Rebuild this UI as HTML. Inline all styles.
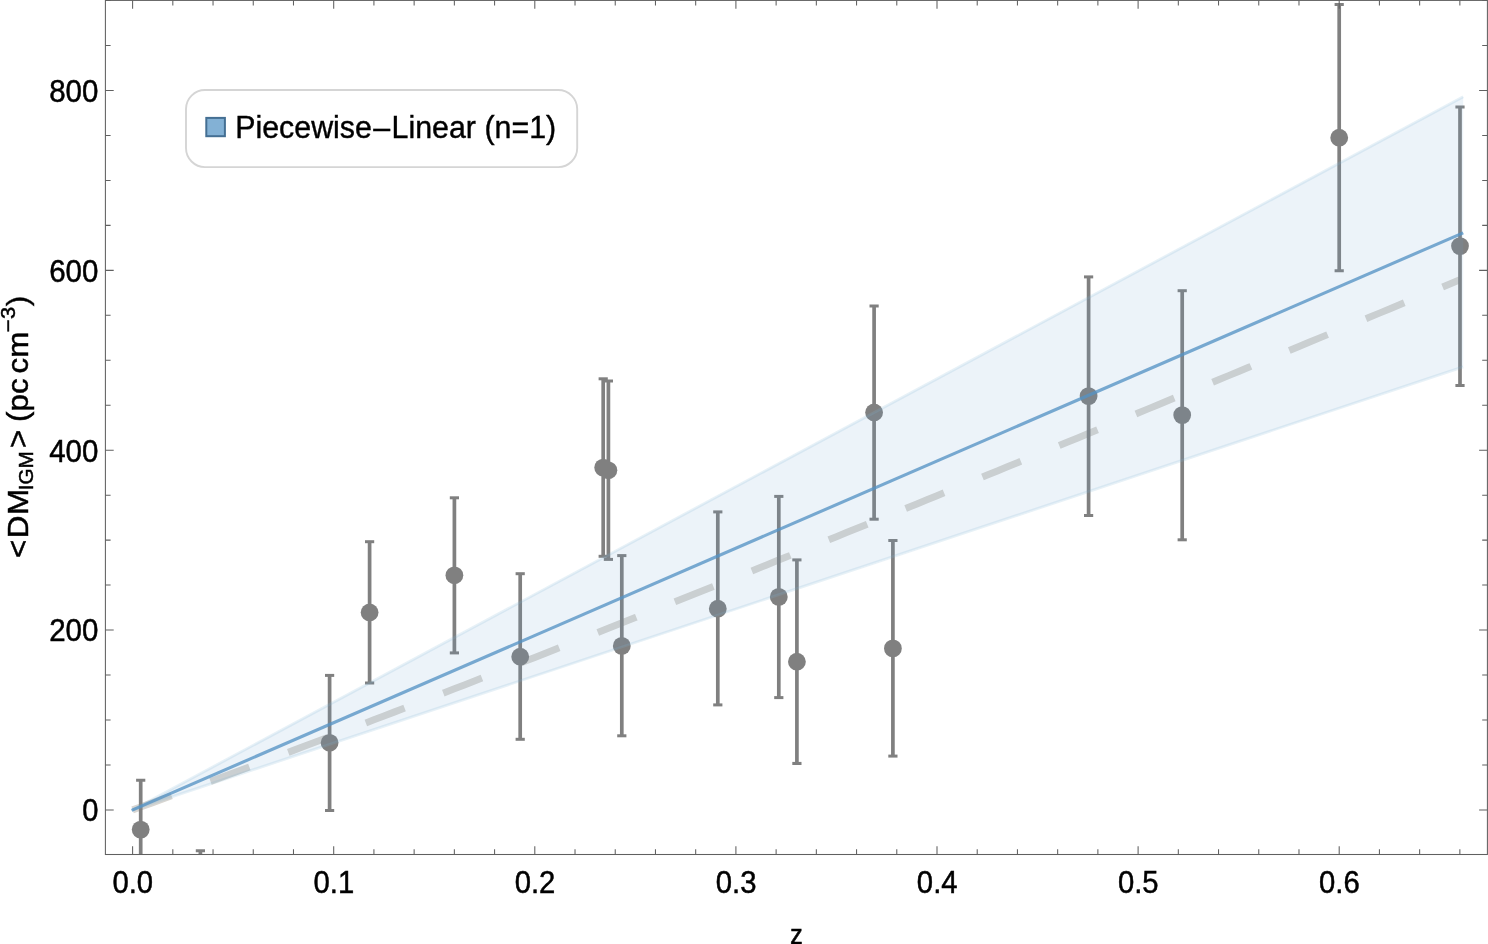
<!DOCTYPE html>
<html><head><meta charset="utf-8"><title>DM IGM vs z</title>
<style>
html,body{margin:0;padding:0;background:#fff;}
body{width:1488px;height:944px;overflow:hidden;}
svg{display:block;}
text{font-family:"Liberation Sans",sans-serif;fill:#000;stroke:#000;stroke-width:0.35px;}
.tk{font-size:30.8px;stroke-width:0.5px;}
</style></head><body>
<svg width="1488" height="944" viewBox="0 0 1488 944">
<rect width="1488" height="944" fill="#fff"/>
<defs><clipPath id="cp"><rect x="105.4" y="0.4" width="1382.0" height="854.1"/></clipPath></defs>
<g clip-path="url(#cp)">
<polyline points="132.60,809.90 142.66,806.25 152.71,802.59 162.76,798.92 172.82,795.24 182.88,791.55 192.93,787.85 202.99,784.15 213.04,780.43 223.09,776.70 233.15,772.97 243.21,769.23 253.26,765.48 263.31,761.72 273.37,757.95 283.42,754.17 293.48,750.39 303.53,746.60 313.59,742.80 323.64,738.99 333.70,735.17 343.75,731.35 353.81,727.52 363.87,723.68 373.92,719.84 383.98,715.98 394.03,712.12 404.09,708.26 414.14,704.38 424.20,700.50 434.25,696.62 444.30,692.72 454.36,688.82 464.41,684.91 474.47,681.00 484.52,677.08 494.58,673.16 504.63,669.23 514.69,665.29 524.75,661.34 534.80,657.40 544.86,653.44 554.91,649.48 564.97,645.51 575.02,641.54 585.08,637.57 595.13,633.59 605.19,629.60 615.24,625.61 625.30,621.61 635.35,617.61 645.41,613.60 655.46,609.59 665.52,605.57 675.57,601.55 685.63,597.53 695.68,593.50 705.74,589.47 715.79,585.43 725.85,581.39 735.90,577.34 745.96,573.29 756.01,569.24 766.07,565.18 776.12,561.12 786.18,557.05 796.23,552.98 806.28,548.91 816.34,544.84 826.39,540.76 836.45,536.68 846.50,532.59 856.56,528.50 866.62,524.41 876.67,520.32 886.73,516.22 896.78,512.12 906.84,508.01 916.89,503.91 926.95,499.80 937.00,495.69 947.06,491.58 957.11,487.46 967.17,483.34 977.22,479.22 987.27,475.10 997.33,470.97 1007.38,466.84 1017.44,462.71 1027.49,458.58 1037.55,454.45 1047.61,450.31 1057.66,446.18 1067.71,442.04 1077.77,437.90 1087.83,433.75 1097.88,429.61 1107.93,425.47 1117.99,421.32 1128.05,417.17 1138.10,413.02 1148.15,408.87 1158.21,404.72 1168.26,400.56 1178.32,396.41 1188.38,392.25 1198.43,388.09 1208.48,383.94 1218.54,379.78 1228.59,375.62 1238.65,371.46 1248.70,367.30 1258.76,363.13 1268.81,358.97 1278.87,354.81 1288.92,350.64 1298.98,346.48 1309.03,342.31 1319.09,338.14 1329.14,333.98 1339.20,329.81 1349.25,325.64 1359.31,321.48 1369.37,317.31 1379.42,313.14 1389.47,308.97 1399.53,304.80 1409.59,300.64 1419.64,296.47 1429.69,292.30 1439.75,288.13 1449.81,283.96 1459.86,279.79" fill="none" stroke="#d8d6d2" stroke-width="7" stroke-dasharray="41.45 41.53"/>
<g stroke="#808080" fill="#808080">
<line x1="140.7" y1="780.2" x2="140.7" y2="880" stroke-width="3.7"/>
<line x1="136.1" y1="780.2" x2="145.29999999999998" y2="780.2" stroke-width="3"/>
<line x1="136.1" y1="880" x2="145.29999999999998" y2="880" stroke-width="3"/>
<circle cx="140.7" cy="829.6" r="8.9" stroke="none"/>
<line x1="200.4" y1="850.7" x2="200.4" y2="920" stroke-width="3.7"/>
<line x1="195.8" y1="850.7" x2="205.0" y2="850.7" stroke-width="3"/>
<line x1="195.8" y1="920" x2="205.0" y2="920" stroke-width="3"/>
<circle cx="200.4" cy="900" r="8.9" stroke="none"/>
<line x1="329.6" y1="675.4" x2="329.6" y2="810.4" stroke-width="3.7"/>
<line x1="325.0" y1="675.4" x2="334.20000000000005" y2="675.4" stroke-width="3"/>
<line x1="325.0" y1="810.4" x2="334.20000000000005" y2="810.4" stroke-width="3"/>
<circle cx="329.6" cy="742.8" r="8.9" stroke="none"/>
<line x1="369.6" y1="541.7" x2="369.6" y2="683" stroke-width="3.7"/>
<line x1="365.0" y1="541.7" x2="374.20000000000005" y2="541.7" stroke-width="3"/>
<line x1="365.0" y1="683" x2="374.20000000000005" y2="683" stroke-width="3"/>
<circle cx="369.6" cy="612.5" r="8.9" stroke="none"/>
<line x1="454.4" y1="497.8" x2="454.4" y2="652.9" stroke-width="3.7"/>
<line x1="449.79999999999995" y1="497.8" x2="459.0" y2="497.8" stroke-width="3"/>
<line x1="449.79999999999995" y1="652.9" x2="459.0" y2="652.9" stroke-width="3"/>
<circle cx="454.4" cy="575.3" r="8.9" stroke="none"/>
<line x1="520.2" y1="573.7" x2="520.2" y2="739.3" stroke-width="3.7"/>
<line x1="515.6" y1="573.7" x2="524.8000000000001" y2="573.7" stroke-width="3"/>
<line x1="515.6" y1="739.3" x2="524.8000000000001" y2="739.3" stroke-width="3"/>
<circle cx="520.2" cy="656.7" r="8.9" stroke="none"/>
<line x1="603.2" y1="378.8" x2="603.2" y2="556.3" stroke-width="3.7"/>
<line x1="598.6" y1="378.8" x2="607.8000000000001" y2="378.8" stroke-width="3"/>
<line x1="598.6" y1="556.3" x2="607.8000000000001" y2="556.3" stroke-width="3"/>
<circle cx="603.2" cy="467.6" r="8.9" stroke="none"/>
<line x1="608.4" y1="381" x2="608.4" y2="559.4" stroke-width="3.7"/>
<line x1="603.8" y1="381" x2="613.0" y2="381" stroke-width="3"/>
<line x1="603.8" y1="559.4" x2="613.0" y2="559.4" stroke-width="3"/>
<circle cx="608.4" cy="470.3" r="8.9" stroke="none"/>
<line x1="621.8" y1="555.6" x2="621.8" y2="735.8" stroke-width="3.7"/>
<line x1="617.1999999999999" y1="555.6" x2="626.4" y2="555.6" stroke-width="3"/>
<line x1="617.1999999999999" y1="735.8" x2="626.4" y2="735.8" stroke-width="3"/>
<circle cx="621.8" cy="645.9" r="8.9" stroke="none"/>
<line x1="717.8" y1="511.9" x2="717.8" y2="704.9" stroke-width="3.7"/>
<line x1="713.1999999999999" y1="511.9" x2="722.4" y2="511.9" stroke-width="3"/>
<line x1="713.1999999999999" y1="704.9" x2="722.4" y2="704.9" stroke-width="3"/>
<circle cx="717.8" cy="608.7" r="8.9" stroke="none"/>
<line x1="778.8" y1="496.4" x2="778.8" y2="697.6" stroke-width="3.7"/>
<line x1="774.1999999999999" y1="496.4" x2="783.4" y2="496.4" stroke-width="3"/>
<line x1="774.1999999999999" y1="697.6" x2="783.4" y2="697.6" stroke-width="3"/>
<circle cx="778.8" cy="596.9" r="8.9" stroke="none"/>
<line x1="796.9" y1="559.9" x2="796.9" y2="763.4" stroke-width="3.7"/>
<line x1="792.3" y1="559.9" x2="801.5" y2="559.9" stroke-width="3"/>
<line x1="792.3" y1="763.4" x2="801.5" y2="763.4" stroke-width="3"/>
<circle cx="796.9" cy="661.7" r="8.9" stroke="none"/>
<line x1="874.1" y1="306" x2="874.1" y2="519.2" stroke-width="3.7"/>
<line x1="869.5" y1="306" x2="878.7" y2="306" stroke-width="3"/>
<line x1="869.5" y1="519.2" x2="878.7" y2="519.2" stroke-width="3"/>
<circle cx="874.1" cy="412.5" r="8.9" stroke="none"/>
<line x1="892.9" y1="540.5" x2="892.9" y2="756.1" stroke-width="3.7"/>
<line x1="888.3" y1="540.5" x2="897.5" y2="540.5" stroke-width="3"/>
<line x1="888.3" y1="756.1" x2="897.5" y2="756.1" stroke-width="3"/>
<circle cx="892.9" cy="648.4" r="8.9" stroke="none"/>
<line x1="1088.6" y1="276.9" x2="1088.6" y2="515.5" stroke-width="3.7"/>
<line x1="1084.0" y1="276.9" x2="1093.1999999999998" y2="276.9" stroke-width="3"/>
<line x1="1084.0" y1="515.5" x2="1093.1999999999998" y2="515.5" stroke-width="3"/>
<circle cx="1088.6" cy="396.1" r="8.9" stroke="none"/>
<line x1="1182.2" y1="290.7" x2="1182.2" y2="539.8" stroke-width="3.7"/>
<line x1="1177.6000000000001" y1="290.7" x2="1186.8" y2="290.7" stroke-width="3"/>
<line x1="1177.6000000000001" y1="539.8" x2="1186.8" y2="539.8" stroke-width="3"/>
<circle cx="1182.2" cy="415.1" r="8.9" stroke="none"/>
<line x1="1339.2" y1="4.4" x2="1339.2" y2="270.7" stroke-width="3.7"/>
<line x1="1334.6000000000001" y1="4.4" x2="1343.8" y2="4.4" stroke-width="3"/>
<line x1="1334.6000000000001" y1="270.7" x2="1343.8" y2="270.7" stroke-width="3"/>
<circle cx="1339.2" cy="137.7" r="8.9" stroke="none"/>
<line x1="1460.0" y1="106.9" x2="1460.0" y2="385.6" stroke-width="3.7"/>
<line x1="1455.4" y1="106.9" x2="1464.6" y2="106.9" stroke-width="3"/>
<line x1="1455.4" y1="385.6" x2="1464.6" y2="385.6" stroke-width="3"/>
<circle cx="1460.0" cy="246.1" r="8.9" stroke="none"/>
</g>
<polygon points="132.6,809.9 1463.2,96.80 1463.2,366.80" fill="#6ea4d0" fill-opacity="0.13" stroke="none"/>
<line x1="132.6" y1="809.9" x2="1463.2" y2="96.80" stroke="#7fb2d6" stroke-opacity="0.19" stroke-width="2.8"/>
<line x1="132.6" y1="809.9" x2="1463.2" y2="366.80" stroke="#7fb2d6" stroke-opacity="0.19" stroke-width="2.8"/>
<line x1="131.6" y1="810.35" x2="1463.2" y2="232.80" stroke="#5592c4" stroke-opacity="0.78" stroke-width="3.1"/>
</g>
<g stroke="#606060" stroke-width="1.05" fill="none">
<rect x="105.4" y="0.4" width="1382.0" height="854.1"/>
<path d="M132.60 854.5v-8.3M132.60 0.4v8.3"/>
<path d="M172.82 854.5v-5.2M172.82 0.4v5.2"/>
<path d="M213.04 854.5v-5.2M213.04 0.4v5.2"/>
<path d="M253.26 854.5v-5.2M253.26 0.4v5.2"/>
<path d="M293.48 854.5v-5.2M293.48 0.4v5.2"/>
<path d="M333.70 854.5v-8.3M333.70 0.4v8.3"/>
<path d="M373.92 854.5v-5.2M373.92 0.4v5.2"/>
<path d="M414.14 854.5v-5.2M414.14 0.4v5.2"/>
<path d="M454.36 854.5v-5.2M454.36 0.4v5.2"/>
<path d="M494.58 854.5v-5.2M494.58 0.4v5.2"/>
<path d="M534.80 854.5v-8.3M534.80 0.4v8.3"/>
<path d="M575.02 854.5v-5.2M575.02 0.4v5.2"/>
<path d="M615.24 854.5v-5.2M615.24 0.4v5.2"/>
<path d="M655.46 854.5v-5.2M655.46 0.4v5.2"/>
<path d="M695.68 854.5v-5.2M695.68 0.4v5.2"/>
<path d="M735.90 854.5v-8.3M735.90 0.4v8.3"/>
<path d="M776.12 854.5v-5.2M776.12 0.4v5.2"/>
<path d="M816.34 854.5v-5.2M816.34 0.4v5.2"/>
<path d="M856.56 854.5v-5.2M856.56 0.4v5.2"/>
<path d="M896.78 854.5v-5.2M896.78 0.4v5.2"/>
<path d="M937.00 854.5v-8.3M937.00 0.4v8.3"/>
<path d="M977.22 854.5v-5.2M977.22 0.4v5.2"/>
<path d="M1017.44 854.5v-5.2M1017.44 0.4v5.2"/>
<path d="M1057.66 854.5v-5.2M1057.66 0.4v5.2"/>
<path d="M1097.88 854.5v-5.2M1097.88 0.4v5.2"/>
<path d="M1138.10 854.5v-8.3M1138.10 0.4v8.3"/>
<path d="M1178.32 854.5v-5.2M1178.32 0.4v5.2"/>
<path d="M1218.54 854.5v-5.2M1218.54 0.4v5.2"/>
<path d="M1258.76 854.5v-5.2M1258.76 0.4v5.2"/>
<path d="M1298.98 854.5v-5.2M1298.98 0.4v5.2"/>
<path d="M1339.20 854.5v-8.3M1339.20 0.4v8.3"/>
<path d="M1379.42 854.5v-5.2M1379.42 0.4v5.2"/>
<path d="M1419.64 854.5v-5.2M1419.64 0.4v5.2"/>
<path d="M1459.86 854.5v-5.2M1459.86 0.4v5.2"/>
<path d="M105.4 809.90h8.3M1487.4 809.90h-8.3"/>
<path d="M105.4 764.94h5.2M1487.4 764.94h-5.2"/>
<path d="M105.4 719.98h5.2M1487.4 719.98h-5.2"/>
<path d="M105.4 675.01h5.2M1487.4 675.01h-5.2"/>
<path d="M105.4 630.05h8.3M1487.4 630.05h-8.3"/>
<path d="M105.4 585.09h5.2M1487.4 585.09h-5.2"/>
<path d="M105.4 540.12h5.2M1487.4 540.12h-5.2"/>
<path d="M105.4 495.16h5.2M1487.4 495.16h-5.2"/>
<path d="M105.4 450.20h8.3M1487.4 450.20h-8.3"/>
<path d="M105.4 405.24h5.2M1487.4 405.24h-5.2"/>
<path d="M105.4 360.27h5.2M1487.4 360.27h-5.2"/>
<path d="M105.4 315.31h5.2M1487.4 315.31h-5.2"/>
<path d="M105.4 270.35h8.3M1487.4 270.35h-8.3"/>
<path d="M105.4 225.39h5.2M1487.4 225.39h-5.2"/>
<path d="M105.4 180.42h5.2M1487.4 180.42h-5.2"/>
<path d="M105.4 135.46h5.2M1487.4 135.46h-5.2"/>
<path d="M105.4 90.50h8.3M1487.4 90.50h-8.3"/>
<path d="M105.4 45.54h5.2M1487.4 45.54h-5.2"/>
<path d="M105.4 0.58h5.2M1487.4 0.58h-5.2"/>
</g>
<text class="tk" x="132.80" y="892.7" text-anchor="middle" textLength="40.7" lengthAdjust="spacingAndGlyphs">0.0</text>
<text class="tk" x="333.90" y="892.7" text-anchor="middle" textLength="40.7" lengthAdjust="spacingAndGlyphs">0.1</text>
<text class="tk" x="535.00" y="892.7" text-anchor="middle" textLength="40.7" lengthAdjust="spacingAndGlyphs">0.2</text>
<text class="tk" x="736.10" y="892.7" text-anchor="middle" textLength="40.7" lengthAdjust="spacingAndGlyphs">0.3</text>
<text class="tk" x="937.20" y="892.7" text-anchor="middle" textLength="40.7" lengthAdjust="spacingAndGlyphs">0.4</text>
<text class="tk" x="1138.30" y="892.7" text-anchor="middle" textLength="40.7" lengthAdjust="spacingAndGlyphs">0.5</text>
<text class="tk" x="1339.40" y="892.7" text-anchor="middle" textLength="40.7" lengthAdjust="spacingAndGlyphs">0.6</text>
<text class="tk" x="98.4" y="821.30" text-anchor="end" textLength="16.2" lengthAdjust="spacingAndGlyphs">0</text>
<text class="tk" x="98.4" y="641.45" text-anchor="end" textLength="49.2" lengthAdjust="spacingAndGlyphs">200</text>
<text class="tk" x="98.4" y="461.60" text-anchor="end" textLength="49.2" lengthAdjust="spacingAndGlyphs">400</text>
<text class="tk" x="98.4" y="281.75" text-anchor="end" textLength="49.2" lengthAdjust="spacingAndGlyphs">600</text>
<text class="tk" x="98.4" y="101.90" text-anchor="end" textLength="49.2" lengthAdjust="spacingAndGlyphs">800</text>
<text x="796.5" y="944.2" text-anchor="middle" font-size="27.9" style="stroke-width:0.7px" textLength="12.4" lengthAdjust="spacingAndGlyphs">z</text>
<text transform="translate(28.4 558.1) rotate(-90) scale(1.05 1)" font-size="29.9" style="stroke-width:0.45px">&lt;<tspan dx="1.5">D</tspan><tspan dx="0.5">M</tspan><tspan font-size="19.6" dy="4.9" dx="-1.4">IGM</tspan><tspan dy="-4.9" dx="3.3">&gt;</tspan><tspan dx="-1.0"> (pc</tspan><tspan dx="-3.5"> cm</tspan><tspan font-size="20.8" dy="-13.2" dx="-0.7">−</tspan><tspan font-size="20.8" dx="0.5">3</tspan><tspan dy="13.2" dx="0.5">)</tspan></text>
<rect x="186" y="90" width="391.2" height="77.1" rx="19" ry="19" fill="#fff" fill-opacity="0.9" stroke="#d5d5d5" stroke-width="1.9"/>
<rect x="206.3" y="117.9" width="18.6" height="18.3" fill="#83b1d5" stroke="#446f93" stroke-width="2"/>
<text x="235.2" y="137.5" font-size="31" style="stroke-width:0.4px" textLength="321" lengthAdjust="spacingAndGlyphs">Piecewise<tspan dx="1.4">–</tspan><tspan dx="1.4">Linear (n=1)</tspan></text>
</svg></body></html>
